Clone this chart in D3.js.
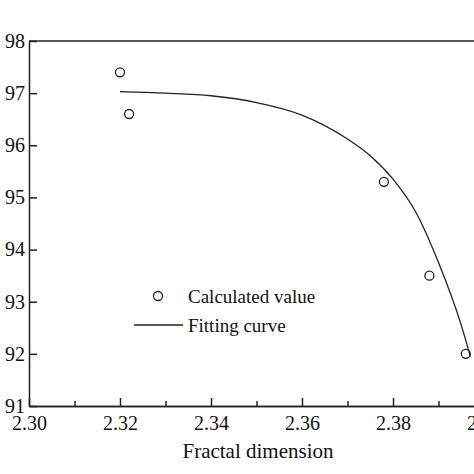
<!DOCTYPE html><html><head><script src="https://d3js.org/d3.v7.min.js"></script>
<style>body{margin:0;background:#fff}text{font-family:"Liberation Serif",serif;fill:#111}</style></head><body>
<script>
const ptX=[2.320,2.322,2.378,2.388,2.396];
const ptY=[97.4,96.6,95.3,93.5,92.0];
const fitX=[2.320,2.330,2.340,2.350,2.360,2.370,2.375,2.380,2.385,2.390,2.395,2.397];
const fitY=[97.03,97.0,96.95,96.82,96.58,96.12,95.8,95.35,94.72,93.75,92.55,91.95];
const xTicks=[2.30,2.32,2.34,2.36,2.38,2.40];
const yTicks=[91,92,93,94,95,96,97,98];
const W=474,H=474;
const svg=d3.select("body").append("svg").attr("width",W).attr("height",H);
const x=d3.scaleLinear().domain([2.30,2.40]).range([29,484]);
const y=d3.scaleLinear().domain([91,98]).range([406,41]);
const c="#222";
svg.append("line").attr("x1",29).attr("x2",484).attr("y1",41).attr("y2",41).attr("stroke",c).attr("stroke-width",1.5);
svg.append("line").attr("x1",484).attr("x2",484).attr("y1",41).attr("y2",406).attr("stroke",c).attr("stroke-width",1.5);
const xa=svg.append("g").attr("transform","translate(0,406)").call(d3.axisBottom(x).tickValues(xTicks).tickFormat(d3.format(".2f")).tickSizeInner(-8).tickSizeOuter(0).tickPadding(6));
const xm=svg.append("g").attr("transform","translate(0,406)").call(d3.axisBottom(x).tickValues([2.31,2.33,2.35,2.37,2.39]).tickFormat("").tickSizeInner(-5).tickSizeOuter(0));
const ya=svg.append("g").attr("transform","translate(29,0)").call(d3.axisLeft(y).tickValues(yTicks).tickFormat(d3.format("d")).tickSizeInner(-8).tickSizeOuter(0).tickPadding(4));
[xa,xm,ya].forEach(g=>{g.selectAll("path,line").attr("stroke",c).attr("stroke-width",1.5);g.selectAll("text").style("font-size","20px").attr("fill","#111").style("font-family","Liberation Serif");});
xa.selectAll("text").attr("dy","0.9em");
svg.append("path").datum(fitX.map((d,i)=>[d,fitY[i]])).attr("fill","none").attr("stroke",c).attr("stroke-width",1.3)
 .attr("d",d3.line().x(d=>x(d[0])).y(d=>y(d[1])).curve(d3.curveMonotoneX));
svg.selectAll("circle.p").data(ptX).join("circle").attr("class","p").attr("cx",d=>x(d)).attr("cy",(d,i)=>y(ptY[i])).attr("r",4.5).attr("fill","none").attr("stroke",c).attr("stroke-width",1.3);
svg.append("circle").attr("cx",158).attr("cy",296).attr("r",4.5).attr("fill","none").attr("stroke",c).attr("stroke-width",1.3);
svg.append("text").attr("x",188).attr("y",303).style("font-size","19px").text("Calculated value");
svg.append("line").attr("x1",134).attr("x2",183).attr("y1",325).attr("y2",325).attr("stroke",c).attr("stroke-width",1.3);
svg.append("text").attr("x",188).attr("y",332).style("font-size","19px").text("Fitting curve");
svg.append("text").attr("x",258).attr("y",458).attr("text-anchor","middle").style("font-size","21px").text("Fractal dimension");
</script></body></html>
